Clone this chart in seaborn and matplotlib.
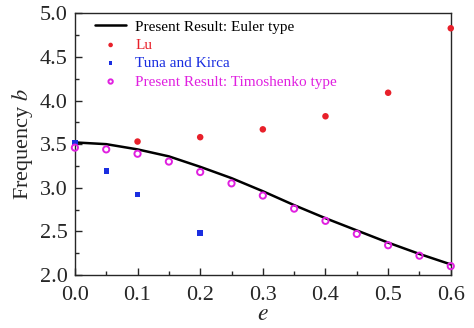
import matplotlib
matplotlib.use("Agg")
import matplotlib.pyplot as plt
import seaborn as sns
import pandas as pd
from matplotlib.ticker import MultipleLocator

sns.set_style("ticks")
plt.rcParams['font.family'] = ['Liberation Serif', 'DejaVu Serif']
plt.rcParams['mathtext.fontset'] = 'stix'

euler_e = [0.0, 0.05, 0.1, 0.15, 0.2, 0.25, 0.3, 0.35, 0.4, 0.45, 0.5, 0.55, 0.6]
euler_b = [3.52, 3.50, 3.44, 3.36, 3.24, 3.11, 2.96, 2.80, 2.65, 2.51, 2.37, 2.24, 2.12]

lu_e = [0.1, 0.2, 0.3, 0.4, 0.5, 0.6]
lu_b = [3.53, 3.58, 3.67, 3.82, 4.09, 4.83]

tuna_e = [0.0, 0.05, 0.1, 0.2]
tuna_b = [3.52, 3.19, 2.92, 2.48]

timo_e = [0.0, 0.05, 0.1, 0.15, 0.2, 0.25, 0.3, 0.35, 0.4, 0.45, 0.5, 0.55, 0.6]
timo_b = [3.46, 3.44, 3.39, 3.30, 3.18, 3.05, 2.91, 2.76, 2.62, 2.47, 2.34, 2.22, 2.10]

fig = plt.figure(figsize=(4.74, 3.28), dpi=100)
ax = fig.add_axes([0.158, 0.162, 0.793, 0.797])

sns.lineplot(x=euler_e, y=euler_b, ax=ax, color='black', lw=1.8,
             label='Present Result: Euler type', zorder=2)
sns.scatterplot(x=lu_e, y=lu_b, ax=ax, color='#e8202a', marker='o', s=22,
                edgecolor='none', label='Lu', zorder=3, clip_on=False)
sns.scatterplot(x=tuna_e, y=tuna_b, ax=ax, color='#1a2ee0', marker='s', s=15,
                edgecolor='none', label='Tuna and Kirca', zorder=3, clip_on=False)
sns.scatterplot(x=timo_e, y=timo_b, ax=ax, facecolor='none', edgecolor='#e020e0',
                marker='o', s=20, linewidth=1.4,
                label='Present Result: Timoshenko type', zorder=4, clip_on=False)

ax.set_xlim(0, 0.6)
ax.set_ylim(2.0, 5.0)
ax.xaxis.set_major_locator(MultipleLocator(0.1))
ax.xaxis.set_minor_locator(MultipleLocator(0.05))
ax.yaxis.set_major_locator(MultipleLocator(0.5))
ax.yaxis.set_minor_locator(MultipleLocator(0.25))
ax.xaxis.set_major_formatter(matplotlib.ticker.FormatStrFormatter('%.1f'))
ax.yaxis.set_major_formatter(matplotlib.ticker.FormatStrFormatter('%.1f'))
ax.tick_params(which='both', direction='in', top=False, right=False)
ax.tick_params(which='major', length=5, width=1, labelsize=16)
ax.tick_params(axis='x', which='major', pad=8)
ax.tick_params(axis='y', which='major', pad=5)
ax.tick_params(which='minor', length=3, width=1)
for s in ax.spines.values():
    s.set_visible(True)
    s.set_linewidth(1.0)

ax.set_xlabel(r'$e$', fontsize=17, labelpad=-1)
ax.set_ylabel(r'Frequency $b$', fontsize=16, labelpad=4)

leg = ax.legend(loc='upper left', bbox_to_anchor=(0.03, 1.01), frameon=False,
                fontsize=11, handlelength=2.0, handletextpad=0.6,
                labelspacing=0.3, borderaxespad=0.2, markerscale=0.7)
colors = ['black', '#e8202a', '#1a2ee0', '#e020e0']
for t, c in zip(leg.get_texts(), colors):
    t.set_color(c)

fig.savefig('out.png', dpi=100)
